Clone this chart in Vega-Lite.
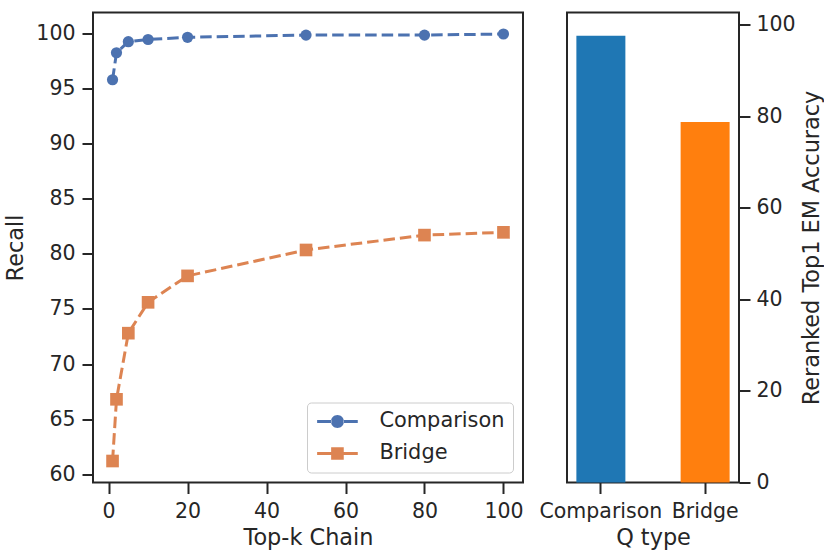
{
  "$schema": "https://vega.github.io/schema/vega-lite/v6.json",
  "padding": {"left": 3, "top": 11.5, "right": 0, "bottom": 0},
  "background": "white",
  "bounds": "flush",
  "spacing": 44,
  "datasets": {
    "recall": [
      {"k": 1, "qtype": "Comparison", "recall": 95.8},
      {"k": 2, "qtype": "Comparison", "recall": 98.25},
      {"k": 5, "qtype": "Comparison", "recall": 99.25},
      {"k": 10, "qtype": "Comparison", "recall": 99.45},
      {"k": 20, "qtype": "Comparison", "recall": 99.65},
      {"k": 50, "qtype": "Comparison", "recall": 99.85},
      {"k": 80, "qtype": "Comparison", "recall": 99.85},
      {"k": 100, "qtype": "Comparison", "recall": 99.95},
      {"k": 1, "qtype": "Bridge", "recall": 61.2},
      {"k": 2, "qtype": "Bridge", "recall": 66.8},
      {"k": 5, "qtype": "Bridge", "recall": 72.8},
      {"k": 10, "qtype": "Bridge", "recall": 75.6},
      {"k": 20, "qtype": "Bridge", "recall": 78.0},
      {"k": 50, "qtype": "Bridge", "recall": 80.35},
      {"k": 80, "qtype": "Bridge", "recall": 81.7},
      {"k": 100, "qtype": "Bridge", "recall": 81.95}
    ],
    "acc": [
      {"qtype": "Comparison", "acc": 97.5},
      {"qtype": "Bridge", "acc": 78.7}
    ]
  },
  "config": {
    "view": {"stroke": "#262626", "strokeWidth": 2},
    "font": "DejaVu Sans",
    "axis": {
      "domain": false,
      "grid": false,
      "tickSize": 11,
      "tickWidth": 2,
      "tickColor": "#262626",
      "labelFont": "DejaVu Sans",
      "labelFontSize": 20.5,
      "labelColor": "#262626",
      "titleFont": "DejaVu Sans",
      "titleFontSize": 22.4,
      "titleFontWeight": "normal",
      "titleColor": "#262626"
    }
  },
  "resolve": {"scale": {"color": "independent", "x": "independent", "y": "independent"}},
  "hconcat": [
    {
      "width": 430,
      "height": 470,
      "data": {"name": "recall"},
      "layer": [
        {
          "mark": {"type": "line", "strokeDash": [11.5, 5], "strokeWidth": 3},
          "encoding": {
            "x": {"field": "k", "type": "quantitative", "scale": {"domain": [-3.95, 104.95], "nice": false, "zero": false}, "axis": {"values": [0, 20, 40, 60, 80, 100], "title": "Top-k Chain", "labelPadding": 8, "titlePadding": 4}},
            "y": {"field": "recall", "type": "quantitative", "scale": {"domain": [59.25, 101.9], "nice": false, "zero": false}, "axis": {"values": [60, 65, 70, 75, 80, 85, 90, 95, 100], "title": "Recall", "labelPadding": 7, "titlePadding": 8}},
            "color": {
              "field": "qtype", "type": "nominal",
              "scale": {"domain": ["Comparison", "Bridge"], "range": ["#4c72b0", "#dd8452"]},
              "legend": {
                "title": null, "orient": "bottom-right", "offset": 10,
                "fillColor": "white", "strokeColor": "#cccccc", "cornerRadius": 4, "padding": 8.5,
                "labelFont": "DejaVu Sans", "labelFontSize": 20.9, "labelColor": "#262626",
                "symbolSize": 180, "symbolStrokeWidth": 0, "symbolOffset": 11.5, "labelOffset": 31.5, "rowPadding": 10,
                "encode": {
                  "symbols": {
                    "update": {
                      "shape": {"signal": "datum.value === 'Comparison' ? 'M-3.03,-0.22L-0.9,-0.22L-0.9,0.22L-3.03,0.22Z M0.9,-0.22L3.03,-0.22L3.03,0.22L0.9,0.22Z M-0.97,0A0.97,0.97,0,1,0,0.97,0A0.97,0.97,0,1,0,-0.97,0Z' : 'M-3.03,-0.22L-0.9,-0.22L-0.9,0.22L-3.03,0.22Z M0.9,-0.22L3.03,-0.22L3.03,0.22L0.9,0.22Z M-0.94,-0.94L0.94,-0.94L0.94,0.94L-0.94,0.94Z'"},
                      "fill": {"signal": "datum.value === 'Comparison' ? '#4c72b0' : '#dd8452'"},
                      "stroke": {"value": "transparent"},
                      "opacity": {"value": 1}
                    }
                  }
                }
              }
            }
          }
        },
        {
          "mark": {"type": "point", "filled": true, "opacity": 1},
          "encoding": {
            "x": {"field": "k", "type": "quantitative"},
            "y": {"field": "recall", "type": "quantitative"},
            "color": {"field": "qtype", "type": "nominal"},
            "shape": {"field": "qtype", "type": "nominal", "scale": {"domain": ["Comparison", "Bridge"], "range": ["circle", "square"]}, "legend": null},
            "size": {"field": "qtype", "type": "ordinal", "scale": {"domain": ["Comparison", "Bridge"], "range": [125, 160]}, "legend": null}
          }
        }
      ]
    },
    {
      "width": 172,
      "height": 470,
      "data": {"name": "acc"},
      "mark": {"type": "bar"},
      "encoding": {
        "x": {"field": "qtype", "type": "nominal", "sort": ["Comparison", "Bridge"], "scale": {"paddingInner": 0.53, "paddingOuter": 0.09}, "axis": {"labelAngle": 0, "title": "Q type", "labelPadding": 8, "titlePadding": 4}},
        "y": {"field": "acc", "type": "quantitative", "scale": {"domain": [0, 102.6], "nice": false}, "axis": {"orient": "right", "values": [0, 20, 40, 60, 80, 100], "title": "Reranked Top1 EM Accuracy", "titleAngle": 270, "titleBaseline": "top", "labelPadding": 6, "titlePadding": 5}},
        "color": {"field": "qtype", "type": "nominal", "scale": {"domain": ["Comparison", "Bridge"], "range": ["#1f77b4", "#ff7f0e"]}, "legend": null}
      }
    }
  ]
}
